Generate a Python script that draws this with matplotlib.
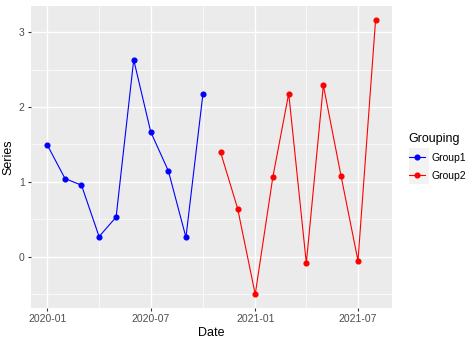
import matplotlib
matplotlib.use("Agg")
import matplotlib.pyplot as plt
import matplotlib.dates as mdates
from matplotlib.ticker import FixedLocator
from matplotlib.patches import Rectangle
import datetime as dt

plt.rcParams['font.family'] = ['Liberation Sans', 'DejaVu Sans']

group1_dates = ["2020-01", "2020-02", "2020-03", "2020-04", "2020-05",
                "2020-06", "2020-07", "2020-08", "2020-09", "2020-10"]
group1_values = [1.49, 1.045, 0.956, 0.27, 0.53, 2.63, 1.667, 1.147, 0.26, 2.18]
group2_dates = ["2020-11", "2020-12", "2021-01", "2021-02", "2021-03",
                "2021-04", "2021-05", "2021-06", "2021-07", "2021-08"]
group2_values = [1.395, 0.645, -0.50, 1.063, 2.18, -0.084, 2.29, 1.085, -0.053, 3.165]
series_names = ["Group1", "Group2"]
series_colors = ["#0000FF", "#FF0000"]
x_major = ["2020-01", "2020-07", "2021-01", "2021-07"]
x_minor = ["2020-04", "2020-10", "2021-04"]
y_major = [0, 1, 2, 3]
y_minor = [-0.5, 0.5, 1.5, 2.5]

def to_num(lst):
    return [mdates.date2num(dt.datetime.strptime(s, "%Y-%m")) for s in lst]

fig = plt.figure(figsize=(4.74, 3.42), dpi=100)
ax = fig.add_axes([31/474, 1-308/342, (392-31)/474, (308-6)/342])
ax.set_facecolor("#EBEBEB")
for s in ax.spines.values():
    s.set_visible(False)

for dates, vals, name, col in zip([group1_dates, group2_dates],
                                  [group1_values, group2_values],
                                  series_names, series_colors):
    ax.plot(to_num(dates), vals, color=col, lw=0.8, marker='o', ms=3.4,
            label=name, zorder=3)

allx = to_num(group1_dates + group2_dates)
ally = group1_values + group2_values
xr = max(allx) - min(allx)
yr = max(ally) - min(ally)
ax.set_xlim(min(allx) - 0.05*xr, max(allx) + 0.05*xr)
ax.set_ylim(min(ally) - 0.05*yr, max(ally) + 0.05*yr)

ax.xaxis.set_major_locator(FixedLocator(to_num(x_major)))
ax.xaxis.set_minor_locator(FixedLocator(to_num(x_minor)))
ax.set_xticklabels(x_major)
ax.yaxis.set_major_locator(FixedLocator(y_major))
ax.yaxis.set_minor_locator(FixedLocator(y_minor))
ax.set_yticklabels([str(v) for v in y_major])

ax.grid(which='major', color='white', lw=1.0, zorder=0)
ax.grid(which='minor', color='white', lw=0.5, zorder=0)
ax.set_axisbelow(True)
ax.tick_params(which='major', length=2.5, width=0.8, color='#333333',
               labelsize=7.5, labelcolor='#4D4D4D', pad=2)
ax.tick_params(which='minor', length=0)

ax.set_xlabel("Date", fontsize=9, labelpad=2)
ax.set_ylabel("Series", fontsize=9, labelpad=3)

# grey legend key background (ggplot style)
ax.add_patch(Rectangle((409/474, 1-184/342), 20/474, 36/342,
                       transform=fig.transFigure, facecolor="#F2F2F2",
                       edgecolor='none', zorder=1, clip_on=False))

leg = ax.legend(loc='center left', bbox_to_anchor=(1.02, 0.5), title="Grouping",
                frameon=False, fontsize=7.5, title_fontsize=9,
                handlelength=1.6, handletextpad=0.6, labelspacing=0.75)
leg.set_zorder(10)
leg._legend_box.align = "left"

fig.savefig("out.png", dpi=100)
